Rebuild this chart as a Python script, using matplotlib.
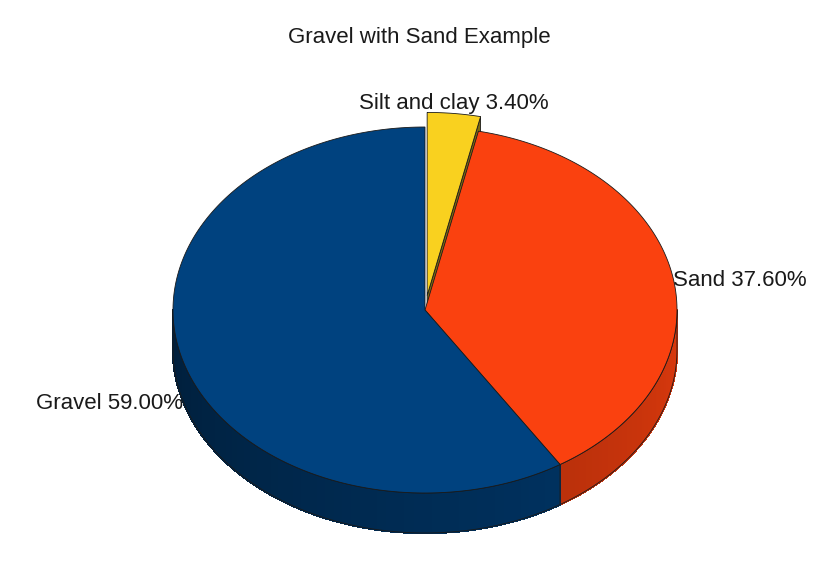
import numpy as np
import matplotlib.pyplot as plt
from matplotlib.patches import Polygon
from matplotlib.colors import to_rgb

plt.rcParams['font.family'] = ['Liberation Sans', 'DejaVu Sans']

# data
labels = ['Silt and clay', 'Sand', 'Gravel']
values = [3.4, 37.6, 59.0]
colors = ['#f9d11f', '#fa410f', '#00427f']
explode = [0.08, 0.0, 0.0]
title = 'Gravel with Sand Example'

# pie geometry (pixels)
CX, CY = 425, 310
RX, RY = 252, 183
DEPTH = 40
EDGE = '#1a1a1a'
FS = 16

fig = plt.figure(figsize=(8.39, 5.82), dpi=100)
ax = fig.add_axes([0, 0, 1, 1])
ax.set_xlim(0, 839)
ax.set_ylim(582, 0)
ax.axis('off')


def pt(theta, cx, cy, r=1.0):
    t = np.radians(theta)
    return cx + r * RX * np.sin(t), cy - r * RY * np.cos(t)


def shade(c, f):
    return tuple(min(1, v * f) for v in to_rgb(c))


total = sum(values)
angles = np.cumsum([0] + [v / total * 360 for v in values])

wedges = []
for i, (lab, v, c, ex) in enumerate(zip(labels, values, colors, explode)):
    a0, a1 = angles[i], angles[i + 1]
    mid = (a0 + a1) / 2
    t = np.radians(mid)
    cx = CX + ex * RX * np.sin(t)
    cy = CY - ex * RY * np.cos(t)
    wedges.append((lab, v, c, a0, a1, mid, cx, cy))

# side faces of the outer rim (front half only), shaded in thin strips
for lab, v, c, a0, a1, mid, cx, cy in wedges:
    lo, hi = max(a0, 90), min(a1, 270)
    if lo >= hi:
        continue
    th = np.linspace(lo, hi, 60)
    for k in range(len(th) - 1):
        seg = np.linspace(th[k], th[k + 1], 3)
        xs, ys = pt(seg, cx, cy)
        poly = np.column_stack([np.r_[xs, xs[::-1]], np.r_[ys, ys[::-1] + DEPTH]])
        f = 0.46 + 0.42 * (270 - np.mean(seg)) / 180
        col = shade(c, f)
        ax.add_patch(Polygon(poly, closed=True, fc=col, ec=col, lw=1.0,
                             antialiased=False))
    xs, ys = pt(th, cx, cy)
    poly = np.column_stack([np.r_[xs, xs[::-1]], np.r_[ys, ys[::-1] + DEPTH]])
    ax.add_patch(Polygon(poly, closed=True, fill=False, ec=EDGE, lw=0.6))

# radial face of the exploded wedge
for lab, v, c, a0, a1, mid, cx, cy in wedges:
    if cx == CX and cy == CY:
        continue
    x1, y1 = pt(a1, cx, cy)
    poly = [(cx, cy), (x1, y1), (x1, y1 + DEPTH), (cx, cy + DEPTH)]
    ax.add_patch(Polygon(poly, closed=True, fc=shade(c, 0.5), ec=EDGE, lw=0.6))

# top faces
for lab, v, c, a0, a1, mid, cx, cy in wedges:
    th = np.linspace(a0, a1, 200)
    xs, ys = pt(th, cx, cy)
    poly = np.column_stack([np.r_[cx, xs], np.r_[cy, ys]])
    ax.add_patch(Polygon(poly, closed=True, fc=c, ec=EDGE, lw=0.6))

# labels
for lab, v, c, a0, a1, mid, cx, cy in wedges:
    x, y = pt(mid, cx, cy)
    txt = f'{lab} {v:.2f}%'
    if np.cos(np.radians(mid)) > 0.9:
        ax.text(x, y + 1, txt, ha='center', va='bottom', fontsize=FS, color='#1a1a1a')
    elif np.sin(np.radians(mid)) > 0:
        ax.text(x, y + 3, txt, ha='left', va='center', fontsize=FS, color='#1a1a1a')
    else:
        ax.text(x, y + DEPTH + 2, txt, ha='right', va='center', fontsize=FS, color='#1a1a1a')

ax.text(419, 37, title, ha='center', va='center', fontsize=FS, color='#1a1a1a')

fig.savefig('out.png', dpi=100)
